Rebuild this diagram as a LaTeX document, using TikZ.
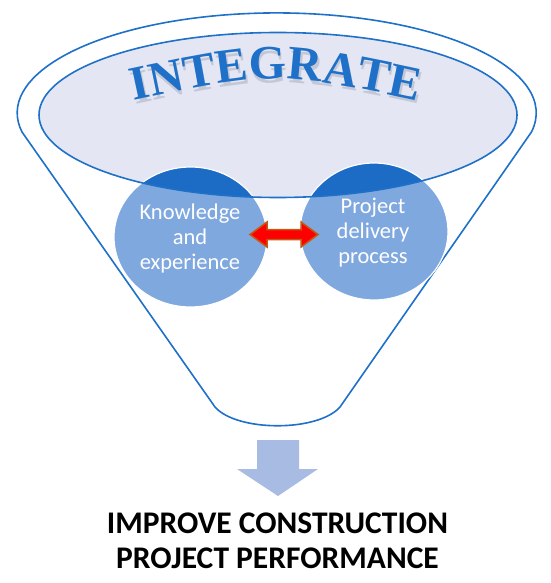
\documentclass[tikz,border=0pt]{standalone}
\usepackage{fontspec}
\newfontfamily\carlito{Carlito}
\newfontfamily\timesf{Liberation Serif}
\usetikzlibrary{shapes.geometric,decorations.text}
\definecolor{lineblue}{RGB}{30,112,200}
\definecolor{intbg}{RGB}{228,231,243}
\definecolor{circlight}{RGB}{127,168,222}
\definecolor{circdark}{RGB}{28,108,198}
\definecolor{arrowred}{RGB}{255,0,0}
\definecolor{arrowedge}{RGB}{198,89,17}
\definecolor{downblue}{RGB}{168,187,227}
\definecolor{shadowgray}{RGB}{196,200,214}
\tikzset{
  funnelline/.style={draw=lineblue, line width=1.6pt, line join=round},
  circnode/.style={ellipse, inner sep=0pt, fill=circlight},
  circtext/.style={text=white, align=center, font=\carlito\fontsize{22.5}{25}\selectfont, inner sep=0pt},
  restext/.style={font=\carlito\bfseries\fontsize{31.5}{35}\selectfont, text=black, anchor=base, inner sep=0pt},
}
\begin{document}
\begin{tikzpicture}[x=1pt,y=-1pt]
\useasboundingbox (0,0) rectangle (550,583);
% funnel outline
\draw[funnelline, fill=white] (22,132) arc[start angle=169, end angle=371, x radius=259.5, y radius=100]
   -- (340,407) .. controls (318,432) and (237,432) .. (215,407) -- cycle;
% inner ellipse fill
\fill[intbg] (278,115) ellipse[x radius=239, y radius=82.5];
% circles
\node[circnode, minimum width=153pt, minimum height=140pt] (kn) at (190.5,237) {};
\node[circnode, minimum width=148pt, minimum height=137pt] (pd) at (374,231.5) {};
\begin{scope}
  \clip (278,115) ellipse[x radius=239, y radius=82.5];
  \fill[circdark] (kn.center) ellipse[x radius=76.5, y radius=70];
  \fill[circdark] (pd.center) ellipse[x radius=74, y radius=68.5];
\end{scope}
\draw[white, line width=1.2pt] (kn.center) ellipse[x radius=76.5, y radius=70];
\draw[white, line width=1.2pt] (pd.center) ellipse[x radius=74, y radius=68.5];
% inner ellipse outline
\draw[draw=lineblue, line width=1.6pt] (278,115) ellipse[x radius=239, y radius=82.5];
% INTEGRATE with soft shadow
\path[decorate, decoration={text along path, text align=center,
  text={|\timesf\bfseries\fontsize{48}{48}\selectfont\color{shadowgray}|INTEGRATE}}]
  (111.5,109.5) .. controls (277.5,73.5) .. (443.5,109.5);
\path[decorate, decoration={text along path, text align=center,
  text={|\timesf\bfseries\fontsize{48}{48}\selectfont\color{lineblue}|INTEGRATE}}]
  (110,106) .. controls (276,70) .. (442,106);
% circle texts
\node[circtext] (kntext) at (190,238) {Knowledge\\and\\experience};
\node[circtext] (pdtext) at (373,232.5) {Project\\delivery\\process};
% red double arrow
\filldraw[fill=arrowred, draw=arrowedge, line width=1.5pt, line join=miter]
  (250,234.5) -- (267,222) -- (267,229.5) -- (301,229.5) -- (301,222) -- (318,234.5)
  -- (301,247) -- (301,239.5) -- (267,239.5) -- (267,247) -- cycle;
% down arrow
\fill[downblue] (257,440) -- (299,440) -- (299,469) -- (318,469) -- (278,496) -- (237,469) -- (257,469) -- cycle;
% result text
\node[restext] (res1) at (277.5,533) {IMPROVE CONSTRUCTION};
\node[restext] (res2) at (277.5,568) {PROJECT PERFORMANCE};
\end{tikzpicture}
\end{document}
